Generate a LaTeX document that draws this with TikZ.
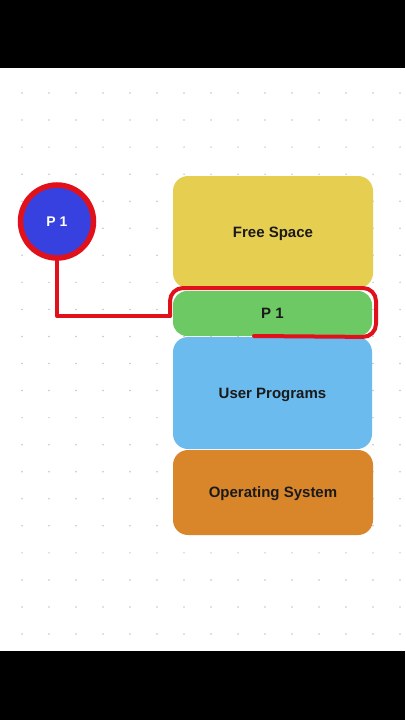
\documentclass[tikz,border=0pt]{standalone}
\usepackage{fontspec}
\setmainfont{Liberation Sans}
\definecolor{cblue}{HTML}{3741E0}
\definecolor{cred}{HTML}{E0111B}
\definecolor{cyellow}{HTML}{E6CE50}
\definecolor{cgreen}{HTML}{6CC964}
\definecolor{clblue}{HTML}{6CBBEE}
\definecolor{corange}{HTML}{D9862A}
\definecolor{ctext}{HTML}{1A1A1A}
\definecolor{cdot}{HTML}{C4C4C4}
\tikzset{
  block/.style={rounded corners=15pt, inner sep=0pt, text=ctext,
    text height=10.7pt, text depth=0pt,
    font=\bfseries\fontsize{15}{17}\selectfont},
  redline/.style={draw=cred, line width=4pt, line cap=round, line join=round},
  proc/.style={circle, fill=cblue, draw=cred, line width=5.5pt, minimum size=73pt,
    inner sep=0pt, text=white, text height=10pt, text depth=0pt,
    font=\bfseries\fontsize{14}{16}\selectfont},
}
\begin{document}
\begin{tikzpicture}[x=1pt,y=-1pt]
\useasboundingbox (0,0) rectangle (405,720);
\fill[black] (0,0) rectangle (405,720);
\fill[white] (0,68) rectangle (405,651);
\foreach \i in {0,...,14}{
  \foreach \j in {0,...,20}{
    \fill[cdot] ({22+27*\i},{93+27.05*\j}) circle (0.85pt);
  }
}
\node[block, fill=cyellow, minimum width=200pt, minimum height=112pt] (free) at (273,232) {Free Space};
\node[block, fill=cgreen, minimum width=199pt, minimum height=45pt, rounded corners=14pt] (p1m) at (272.5,313.5) {P 1};
\node[block, fill=clblue, minimum width=199pt, minimum height=112pt] (user) at (272.5,393) {User Programs};
\node[block, fill=corange, minimum width=200pt, minimum height=85pt] (os) at (273,492.5) {Operating System};
\node[proc] (p1c) at (57,221.5) {P 1};
\coordinate (j) at (170,316);
\coordinate (tl) at (170,288);
\coordinate (tr) at (376,288);
\coordinate (br) at (376,337);
\coordinate (e) at (254,336);
\draw[redline] (p1c.south) |- (j);
\draw[redline, rounded corners=13pt] (j) -- (tl) -- (tr) -- (br) -- (e);
\end{tikzpicture}
\end{document}
